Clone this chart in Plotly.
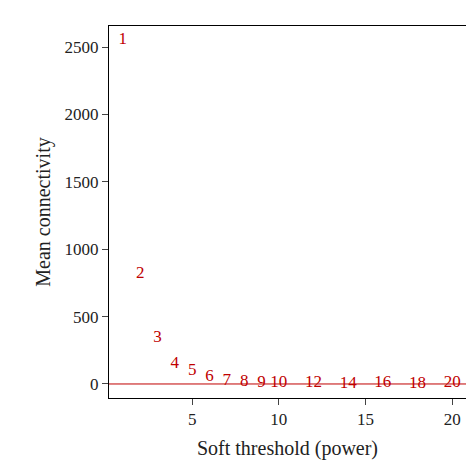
import plotly.graph_objects as go

powers = [1,2,3,4,5,6,7,8,9,10,12,14,16,18,20]
mean_k = [2552,816,341,148,96,52,24,20,10,10,6,5,10,3,6]
xticks = [5,10,15,20]
yticks = [0,500,1000,1500,2000,2500]

fig = go.Figure()
fig.add_trace(go.Scatter(x=powers, y=mean_k, mode="text", text=[str(p) for p in powers],
    textfont=dict(family="Liberation Serif", size=17, color="#c00000"), textposition="middle center"))
fig.add_shape(type="line", xref="paper", x0=0, x1=1, y0=0, y1=0, line=dict(color="#c00000", width=1))
fig.update_layout(width=474, height=474, plot_bgcolor="white", paper_bgcolor="white",
    margin=dict(l=101, r=16, t=18, b=84, autoexpand=False), showlegend=False,
    font=dict(family="Liberation Serif", size=17, color="#222"))
fig.update_xaxes(range=[0.2,20.8], tickvals=xticks, ticks="outside", ticklen=6, showgrid=False,
    zeroline=False, showline=True, linecolor="black", mirror=True, automargin=False,
    title=dict(text="Soft threshold (power)", standoff=12))
fig.update_yaxes(range=[-104,2656], tickvals=yticks, ticks="outside", ticklen=6, showgrid=False,
    zeroline=False, showline=True, linecolor="black", mirror=True, automargin=False,
    title=dict(text="Mean connectivity", standoff=8))
fig.write_html("out.html")
